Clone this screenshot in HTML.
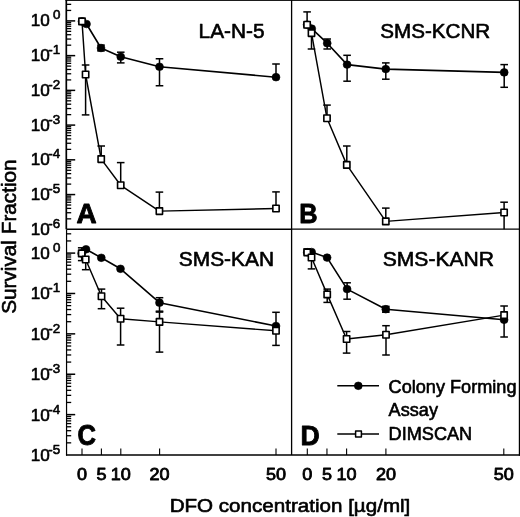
<!DOCTYPE html>
<html><head><meta charset="utf-8"><title>Survival Fraction vs DFO concentration</title>
<style>
html,body{margin:0;padding:0;background:#fff;}
svg{display:block;font-family:'Liberation Sans', Arial, Helvetica, sans-serif;fill:#000;}
</style></head>
<body>
<svg width="520" height="517" viewBox="0 0 520 517">
<rect x="0" y="0" width="520" height="517" fill="#fff"/>
<g font-family="'Liberation Sans', Arial, Helvetica, sans-serif" fill="#000" stroke="#000" stroke-width="0.6" stroke-linejoin="round">
<line x1="66.3" y1="0" x2="66.3" y2="229.3" stroke="#000" stroke-width="1.7"/>
<line x1="66.55" y1="229.3" x2="66.55" y2="455.6" stroke="#000" stroke-width="1.2"/>
<line x1="65.5" y1="0.4" x2="520" y2="0.4" stroke="#000" stroke-width="1.0"/>
<line x1="519.4" y1="0" x2="519.4" y2="455.7" stroke="#000" stroke-width="1.2"/>
<line x1="65.95" y1="455.0" x2="520" y2="455.0" stroke="#000" stroke-width="1.4"/>
<line x1="66.8" y1="229.3" x2="291.6" y2="229.3" stroke="#000" stroke-width="1.4"/>
<line x1="291.6" y1="229.10000000000002" x2="520" y2="229.10000000000002" stroke="#000" stroke-width="1.2"/>
<line x1="291.6" y1="0" x2="291.6" y2="455.0" stroke="#000" stroke-width="1.3"/>
<line x1="66.8" y1="20.90" x2="75.2" y2="20.90" stroke="#000" stroke-width="1.5"/>
<line x1="66.8" y1="10.44" x2="71.2" y2="10.44" stroke="#000" stroke-width="1.3"/>
<line x1="66.8" y1="4.33" x2="71.2" y2="4.33" stroke="#000" stroke-width="1.3"/>
<line x1="66.8" y1="55.63" x2="75.2" y2="55.63" stroke="#000" stroke-width="1.5"/>
<line x1="66.8" y1="45.18" x2="71.2" y2="45.18" stroke="#000" stroke-width="1.3"/>
<line x1="66.8" y1="39.06" x2="71.2" y2="39.06" stroke="#000" stroke-width="1.3"/>
<line x1="66.8" y1="34.72" x2="71.2" y2="34.72" stroke="#000" stroke-width="1.3"/>
<line x1="66.8" y1="31.36" x2="71.2" y2="31.36" stroke="#000" stroke-width="1.3"/>
<line x1="66.8" y1="28.61" x2="71.2" y2="28.61" stroke="#000" stroke-width="1.3"/>
<line x1="66.8" y1="26.28" x2="71.2" y2="26.28" stroke="#000" stroke-width="1.3"/>
<line x1="66.8" y1="24.27" x2="71.2" y2="24.27" stroke="#000" stroke-width="1.3"/>
<line x1="66.8" y1="22.49" x2="71.2" y2="22.49" stroke="#000" stroke-width="1.3"/>
<line x1="66.8" y1="90.37" x2="75.2" y2="90.37" stroke="#000" stroke-width="1.5"/>
<line x1="66.8" y1="79.91" x2="71.2" y2="79.91" stroke="#000" stroke-width="1.3"/>
<line x1="66.8" y1="73.79" x2="71.2" y2="73.79" stroke="#000" stroke-width="1.3"/>
<line x1="66.8" y1="69.46" x2="71.2" y2="69.46" stroke="#000" stroke-width="1.3"/>
<line x1="66.8" y1="66.09" x2="71.2" y2="66.09" stroke="#000" stroke-width="1.3"/>
<line x1="66.8" y1="63.34" x2="71.2" y2="63.34" stroke="#000" stroke-width="1.3"/>
<line x1="66.8" y1="61.01" x2="71.2" y2="61.01" stroke="#000" stroke-width="1.3"/>
<line x1="66.8" y1="59.00" x2="71.2" y2="59.00" stroke="#000" stroke-width="1.3"/>
<line x1="66.8" y1="57.22" x2="71.2" y2="57.22" stroke="#000" stroke-width="1.3"/>
<line x1="66.8" y1="125.10" x2="75.2" y2="125.10" stroke="#000" stroke-width="1.5"/>
<line x1="66.8" y1="114.64" x2="71.2" y2="114.64" stroke="#000" stroke-width="1.3"/>
<line x1="66.8" y1="108.53" x2="71.2" y2="108.53" stroke="#000" stroke-width="1.3"/>
<line x1="66.8" y1="104.19" x2="71.2" y2="104.19" stroke="#000" stroke-width="1.3"/>
<line x1="66.8" y1="100.82" x2="71.2" y2="100.82" stroke="#000" stroke-width="1.3"/>
<line x1="66.8" y1="98.07" x2="71.2" y2="98.07" stroke="#000" stroke-width="1.3"/>
<line x1="66.8" y1="95.75" x2="71.2" y2="95.75" stroke="#000" stroke-width="1.3"/>
<line x1="66.8" y1="93.73" x2="71.2" y2="93.73" stroke="#000" stroke-width="1.3"/>
<line x1="66.8" y1="91.96" x2="71.2" y2="91.96" stroke="#000" stroke-width="1.3"/>
<line x1="66.8" y1="159.83" x2="75.2" y2="159.83" stroke="#000" stroke-width="1.5"/>
<line x1="66.8" y1="149.38" x2="71.2" y2="149.38" stroke="#000" stroke-width="1.3"/>
<line x1="66.8" y1="143.26" x2="71.2" y2="143.26" stroke="#000" stroke-width="1.3"/>
<line x1="66.8" y1="138.92" x2="71.2" y2="138.92" stroke="#000" stroke-width="1.3"/>
<line x1="66.8" y1="135.56" x2="71.2" y2="135.56" stroke="#000" stroke-width="1.3"/>
<line x1="66.8" y1="132.81" x2="71.2" y2="132.81" stroke="#000" stroke-width="1.3"/>
<line x1="66.8" y1="130.48" x2="71.2" y2="130.48" stroke="#000" stroke-width="1.3"/>
<line x1="66.8" y1="128.47" x2="71.2" y2="128.47" stroke="#000" stroke-width="1.3"/>
<line x1="66.8" y1="126.69" x2="71.2" y2="126.69" stroke="#000" stroke-width="1.3"/>
<line x1="66.8" y1="194.57" x2="75.2" y2="194.57" stroke="#000" stroke-width="1.5"/>
<line x1="66.8" y1="184.11" x2="71.2" y2="184.11" stroke="#000" stroke-width="1.3"/>
<line x1="66.8" y1="177.99" x2="71.2" y2="177.99" stroke="#000" stroke-width="1.3"/>
<line x1="66.8" y1="173.66" x2="71.2" y2="173.66" stroke="#000" stroke-width="1.3"/>
<line x1="66.8" y1="170.29" x2="71.2" y2="170.29" stroke="#000" stroke-width="1.3"/>
<line x1="66.8" y1="167.54" x2="71.2" y2="167.54" stroke="#000" stroke-width="1.3"/>
<line x1="66.8" y1="165.21" x2="71.2" y2="165.21" stroke="#000" stroke-width="1.3"/>
<line x1="66.8" y1="163.20" x2="71.2" y2="163.20" stroke="#000" stroke-width="1.3"/>
<line x1="66.8" y1="161.42" x2="71.2" y2="161.42" stroke="#000" stroke-width="1.3"/>
<line x1="66.8" y1="218.84" x2="71.2" y2="218.84" stroke="#000" stroke-width="1.3"/>
<line x1="66.8" y1="212.73" x2="71.2" y2="212.73" stroke="#000" stroke-width="1.3"/>
<line x1="66.8" y1="208.39" x2="71.2" y2="208.39" stroke="#000" stroke-width="1.3"/>
<line x1="66.8" y1="205.02" x2="71.2" y2="205.02" stroke="#000" stroke-width="1.3"/>
<line x1="66.8" y1="202.27" x2="71.2" y2="202.27" stroke="#000" stroke-width="1.3"/>
<line x1="66.8" y1="199.95" x2="71.2" y2="199.95" stroke="#000" stroke-width="1.3"/>
<line x1="66.8" y1="197.93" x2="71.2" y2="197.93" stroke="#000" stroke-width="1.3"/>
<line x1="66.8" y1="196.16" x2="71.2" y2="196.16" stroke="#000" stroke-width="1.3"/>
<line x1="66.8" y1="253.10" x2="75.2" y2="253.10" stroke="#000" stroke-width="1.5"/>
<line x1="66.8" y1="240.94" x2="71.2" y2="240.94" stroke="#000" stroke-width="1.3"/>
<line x1="66.8" y1="233.83" x2="71.2" y2="233.83" stroke="#000" stroke-width="1.3"/>
<line x1="66.8" y1="293.48" x2="75.2" y2="293.48" stroke="#000" stroke-width="1.5"/>
<line x1="66.8" y1="281.32" x2="71.2" y2="281.32" stroke="#000" stroke-width="1.3"/>
<line x1="66.8" y1="274.21" x2="71.2" y2="274.21" stroke="#000" stroke-width="1.3"/>
<line x1="66.8" y1="269.17" x2="71.2" y2="269.17" stroke="#000" stroke-width="1.3"/>
<line x1="66.8" y1="265.26" x2="71.2" y2="265.26" stroke="#000" stroke-width="1.3"/>
<line x1="66.8" y1="262.06" x2="71.2" y2="262.06" stroke="#000" stroke-width="1.3"/>
<line x1="66.8" y1="259.35" x2="71.2" y2="259.35" stroke="#000" stroke-width="1.3"/>
<line x1="66.8" y1="257.01" x2="71.2" y2="257.01" stroke="#000" stroke-width="1.3"/>
<line x1="66.8" y1="254.95" x2="71.2" y2="254.95" stroke="#000" stroke-width="1.3"/>
<line x1="66.8" y1="333.86" x2="75.2" y2="333.86" stroke="#000" stroke-width="1.5"/>
<line x1="66.8" y1="321.70" x2="71.2" y2="321.70" stroke="#000" stroke-width="1.3"/>
<line x1="66.8" y1="314.59" x2="71.2" y2="314.59" stroke="#000" stroke-width="1.3"/>
<line x1="66.8" y1="309.55" x2="71.2" y2="309.55" stroke="#000" stroke-width="1.3"/>
<line x1="66.8" y1="305.64" x2="71.2" y2="305.64" stroke="#000" stroke-width="1.3"/>
<line x1="66.8" y1="302.44" x2="71.2" y2="302.44" stroke="#000" stroke-width="1.3"/>
<line x1="66.8" y1="299.73" x2="71.2" y2="299.73" stroke="#000" stroke-width="1.3"/>
<line x1="66.8" y1="297.39" x2="71.2" y2="297.39" stroke="#000" stroke-width="1.3"/>
<line x1="66.8" y1="295.33" x2="71.2" y2="295.33" stroke="#000" stroke-width="1.3"/>
<line x1="66.8" y1="374.24" x2="75.2" y2="374.24" stroke="#000" stroke-width="1.5"/>
<line x1="66.8" y1="362.08" x2="71.2" y2="362.08" stroke="#000" stroke-width="1.3"/>
<line x1="66.8" y1="354.97" x2="71.2" y2="354.97" stroke="#000" stroke-width="1.3"/>
<line x1="66.8" y1="349.93" x2="71.2" y2="349.93" stroke="#000" stroke-width="1.3"/>
<line x1="66.8" y1="346.02" x2="71.2" y2="346.02" stroke="#000" stroke-width="1.3"/>
<line x1="66.8" y1="342.82" x2="71.2" y2="342.82" stroke="#000" stroke-width="1.3"/>
<line x1="66.8" y1="340.11" x2="71.2" y2="340.11" stroke="#000" stroke-width="1.3"/>
<line x1="66.8" y1="337.77" x2="71.2" y2="337.77" stroke="#000" stroke-width="1.3"/>
<line x1="66.8" y1="335.71" x2="71.2" y2="335.71" stroke="#000" stroke-width="1.3"/>
<line x1="66.8" y1="414.62" x2="75.2" y2="414.62" stroke="#000" stroke-width="1.5"/>
<line x1="66.8" y1="402.46" x2="71.2" y2="402.46" stroke="#000" stroke-width="1.3"/>
<line x1="66.8" y1="395.35" x2="71.2" y2="395.35" stroke="#000" stroke-width="1.3"/>
<line x1="66.8" y1="390.31" x2="71.2" y2="390.31" stroke="#000" stroke-width="1.3"/>
<line x1="66.8" y1="386.40" x2="71.2" y2="386.40" stroke="#000" stroke-width="1.3"/>
<line x1="66.8" y1="383.20" x2="71.2" y2="383.20" stroke="#000" stroke-width="1.3"/>
<line x1="66.8" y1="380.49" x2="71.2" y2="380.49" stroke="#000" stroke-width="1.3"/>
<line x1="66.8" y1="378.15" x2="71.2" y2="378.15" stroke="#000" stroke-width="1.3"/>
<line x1="66.8" y1="376.09" x2="71.2" y2="376.09" stroke="#000" stroke-width="1.3"/>
<line x1="66.8" y1="442.84" x2="71.2" y2="442.84" stroke="#000" stroke-width="1.3"/>
<line x1="66.8" y1="435.73" x2="71.2" y2="435.73" stroke="#000" stroke-width="1.3"/>
<line x1="66.8" y1="430.69" x2="71.2" y2="430.69" stroke="#000" stroke-width="1.3"/>
<line x1="66.8" y1="426.78" x2="71.2" y2="426.78" stroke="#000" stroke-width="1.3"/>
<line x1="66.8" y1="423.58" x2="71.2" y2="423.58" stroke="#000" stroke-width="1.3"/>
<line x1="66.8" y1="420.87" x2="71.2" y2="420.87" stroke="#000" stroke-width="1.3"/>
<line x1="66.8" y1="418.53" x2="71.2" y2="418.53" stroke="#000" stroke-width="1.3"/>
<line x1="66.8" y1="416.47" x2="71.2" y2="416.47" stroke="#000" stroke-width="1.3"/>
<text x="49.8" y="26.3" font-size="17.1" text-anchor="end" transform="translate(0 0)">10</text>
<text x="53.0" y="19.3" font-size="13.4">0</text>
<text x="49.8" y="61.0" font-size="17.1" text-anchor="end" transform="translate(0 0)">10</text>
<text x="48.2" y="54.0" font-size="13.4" letter-spacing="0.1">-1</text>
<text x="49.8" y="95.8" font-size="17.1" text-anchor="end" transform="translate(0 0)">10</text>
<text x="48.2" y="88.8" font-size="13.4" letter-spacing="0.1">-2</text>
<text x="49.8" y="130.5" font-size="17.1" text-anchor="end" transform="translate(0 0)">10</text>
<text x="48.2" y="123.5" font-size="13.4" letter-spacing="0.1">-3</text>
<text x="49.8" y="165.2" font-size="17.1" text-anchor="end" transform="translate(0 0)">10</text>
<text x="48.2" y="158.2" font-size="13.4" letter-spacing="0.1">-4</text>
<text x="49.8" y="200.0" font-size="17.1" text-anchor="end" transform="translate(0 0)">10</text>
<text x="48.2" y="193.0" font-size="13.4" letter-spacing="0.1">-5</text>
<text x="49.8" y="234.7" font-size="17.1" text-anchor="end" transform="translate(0 0)">10</text>
<text x="48.2" y="227.7" font-size="13.4" letter-spacing="0.1">-6</text>
<text x="49.8" y="259.0" font-size="17.1" text-anchor="end" transform="translate(0 0)">10</text>
<text x="53.0" y="252.0" font-size="13.4">0</text>
<text x="49.8" y="299.4" font-size="17.1" text-anchor="end" transform="translate(0 0)">10</text>
<text x="48.2" y="292.4" font-size="13.4" letter-spacing="0.1">-1</text>
<text x="49.8" y="339.8" font-size="17.1" text-anchor="end" transform="translate(0 0)">10</text>
<text x="48.2" y="332.8" font-size="13.4" letter-spacing="0.1">-2</text>
<text x="49.8" y="380.1" font-size="17.1" text-anchor="end" transform="translate(0 0)">10</text>
<text x="48.2" y="373.1" font-size="13.4" letter-spacing="0.1">-3</text>
<text x="49.8" y="420.5" font-size="17.1" text-anchor="end" transform="translate(0 0)">10</text>
<text x="48.2" y="413.5" font-size="13.4" letter-spacing="0.1">-4</text>
<text x="49.8" y="460.9" font-size="17.1" text-anchor="end" transform="translate(0 0)">10</text>
<text x="48.2" y="453.9" font-size="13.4" letter-spacing="0.1">-5</text>
<line x1="82.00" y1="455.0" x2="82.00" y2="448.4" stroke="#000" stroke-width="1.1"/>
<text x="0" y="0" font-size="16.4" stroke-width="0.8" text-anchor="middle" transform="translate(82.00 479.6) scale(1.1 1)">0</text>
<line x1="101.40" y1="455.0" x2="101.40" y2="448.4" stroke="#000" stroke-width="1.1"/>
<text x="0" y="0" font-size="16.4" stroke-width="0.8" text-anchor="middle" transform="translate(101.40 479.6) scale(1.1 1)">5</text>
<line x1="120.80" y1="455.0" x2="120.80" y2="448.4" stroke="#000" stroke-width="1.1"/>
<text x="0" y="0" font-size="16.4" stroke-width="0.8" text-anchor="middle" transform="translate(120.80 479.6) scale(1.1 1)">10</text>
<line x1="159.60" y1="455.0" x2="159.60" y2="448.4" stroke="#000" stroke-width="1.1"/>
<text x="0" y="0" font-size="16.4" stroke-width="0.8" text-anchor="middle" transform="translate(159.60 479.6) scale(1.1 1)">20</text>
<line x1="276.00" y1="455.0" x2="276.00" y2="448.4" stroke="#000" stroke-width="1.1"/>
<text x="0" y="0" font-size="16.4" stroke-width="0.8" text-anchor="middle" transform="translate(276.00 479.6) scale(1.1 1)">50</text>
<line x1="307.30" y1="455.0" x2="307.30" y2="448.4" stroke="#000" stroke-width="1.1"/>
<text x="0" y="0" font-size="16.4" stroke-width="0.8" text-anchor="middle" transform="translate(307.30 479.6) scale(1.1 1)">0</text>
<line x1="326.95" y1="455.0" x2="326.95" y2="448.4" stroke="#000" stroke-width="1.1"/>
<text x="0" y="0" font-size="16.4" stroke-width="0.8" text-anchor="middle" transform="translate(326.95 479.6) scale(1.1 1)">5</text>
<line x1="346.60" y1="455.0" x2="346.60" y2="448.4" stroke="#000" stroke-width="1.1"/>
<text x="0" y="0" font-size="16.4" stroke-width="0.8" text-anchor="middle" transform="translate(346.60 479.6) scale(1.1 1)">10</text>
<line x1="385.90" y1="455.0" x2="385.90" y2="448.4" stroke="#000" stroke-width="1.1"/>
<text x="0" y="0" font-size="16.4" stroke-width="0.8" text-anchor="middle" transform="translate(385.90 479.6) scale(1.1 1)">20</text>
<line x1="503.80" y1="455.0" x2="503.80" y2="448.4" stroke="#000" stroke-width="1.1"/>
<text x="0" y="0" font-size="16.4" stroke-width="0.8" text-anchor="middle" transform="translate(503.80 479.6) scale(1.1 1)">50</text>
<text x="290" y="512" font-size="18.4" text-anchor="middle" transform="translate(290 0) scale(1.12 1) translate(-290 0)">DFO concentration [µg/ml]</text>
<text x="0" y="0" font-size="20.8" text-anchor="middle" transform="translate(16.3 236.6) rotate(-90) scale(0.998 1)">Survival Fraction</text>
<text x="0" y="0" font-size="20" transform="translate(198.6 38.3) scale(1.042 1)">LA-N-5</text>
<text x="0" y="0" font-size="20" transform="translate(380.2 38.3) scale(1.032 1)">SMS-KCNR</text>
<text x="0" y="0" font-size="20" transform="translate(178.8 266.2) scale(1.046 1)">SMS-KAN</text>
<text x="0" y="0" font-size="20" transform="translate(382.7 266.2) scale(1.056 1)">SMS-KANR</text>
<text x="0" y="0" font-size="25.6" font-weight="bold" stroke-width="0.8" transform="translate(76.4 222.5) scale(1.09 1.065)">A</text>
<text x="0" y="0" font-size="25.6" font-weight="bold" stroke-width="0.8" transform="translate(299.2 223.3) scale(0.99 1.09)">B</text>
<text x="0" y="0" font-size="25.6" font-weight="bold" stroke-width="0.8" transform="translate(77.5 445.3) scale(1.0 1.16)">C</text>
<text x="0" y="0" font-size="25.6" font-weight="bold" stroke-width="0.8" transform="translate(300.6 445.2) scale(1.04 1.085)">D</text>
<polyline points="82,21.4 86.5,24 101,48 120.75,56.75 159.5,66.75 276,77.2" fill="none" stroke="#000" stroke-width="1.6" stroke-linejoin="round"/>
<line x1="101" y1="48" x2="101" y2="45.1" stroke="#000" stroke-width="1.5"/>
<line x1="97.2" y1="45.1" x2="104.8" y2="45.1" stroke="#000" stroke-width="1.5"/>
<line x1="101" y1="48" x2="101" y2="50.9" stroke="#000" stroke-width="1.5"/>
<line x1="97.2" y1="50.9" x2="104.8" y2="50.9" stroke="#000" stroke-width="1.5"/>
<line x1="120.75" y1="56.75" x2="120.75" y2="52.2" stroke="#000" stroke-width="1.5"/>
<line x1="116.95" y1="52.2" x2="124.55" y2="52.2" stroke="#000" stroke-width="1.5"/>
<line x1="120.75" y1="56.75" x2="120.75" y2="62.9" stroke="#000" stroke-width="1.5"/>
<line x1="116.95" y1="62.9" x2="124.55" y2="62.9" stroke="#000" stroke-width="1.5"/>
<line x1="159.5" y1="66.75" x2="159.5" y2="58.75" stroke="#000" stroke-width="1.5"/>
<line x1="155.7" y1="58.75" x2="163.3" y2="58.75" stroke="#000" stroke-width="1.5"/>
<line x1="159.5" y1="66.75" x2="159.5" y2="85.75" stroke="#000" stroke-width="1.5"/>
<line x1="155.7" y1="85.75" x2="163.3" y2="85.75" stroke="#000" stroke-width="1.5"/>
<line x1="276" y1="77.2" x2="276" y2="64" stroke="#000" stroke-width="1.5"/>
<line x1="272.2" y1="64" x2="279.8" y2="64" stroke="#000" stroke-width="1.5"/>
<ellipse cx="82" cy="21.4" rx="3.95" ry="3.85" fill="#000"/>
<ellipse cx="86.5" cy="24" rx="3.95" ry="3.85" fill="#000"/>
<ellipse cx="101" cy="48" rx="3.95" ry="3.85" fill="#000"/>
<ellipse cx="120.75" cy="56.75" rx="3.95" ry="3.85" fill="#000"/>
<ellipse cx="159.5" cy="66.75" rx="3.95" ry="3.85" fill="#000"/>
<ellipse cx="276" cy="77.2" rx="3.95" ry="3.85" fill="#000"/>
<polyline points="82,21.4 85.6,74.5 101.2,159.1 120.7,185.3 159.4,211.1 276,208.5" fill="none" stroke="#000" stroke-width="1.45" stroke-linejoin="round"/>
<line x1="85.6" y1="74.5" x2="85.6" y2="65" stroke="#000" stroke-width="1.5"/>
<line x1="81.8" y1="65" x2="89.39999999999999" y2="65" stroke="#000" stroke-width="1.5"/>
<line x1="85.6" y1="74.5" x2="85.6" y2="114.9" stroke="#000" stroke-width="1.5"/>
<line x1="81.8" y1="114.9" x2="89.39999999999999" y2="114.9" stroke="#000" stroke-width="1.5"/>
<line x1="101.2" y1="159.1" x2="101.2" y2="146" stroke="#000" stroke-width="1.5"/>
<line x1="97.4" y1="146" x2="105.0" y2="146" stroke="#000" stroke-width="1.5"/>
<line x1="120.7" y1="185.3" x2="120.7" y2="162.6" stroke="#000" stroke-width="1.5"/>
<line x1="116.9" y1="162.6" x2="124.5" y2="162.6" stroke="#000" stroke-width="1.5"/>
<line x1="159.4" y1="211.1" x2="159.4" y2="192.1" stroke="#000" stroke-width="1.5"/>
<line x1="155.6" y1="192.1" x2="163.20000000000002" y2="192.1" stroke="#000" stroke-width="1.5"/>
<line x1="276" y1="208.5" x2="276" y2="191.9" stroke="#000" stroke-width="1.5"/>
<line x1="272.2" y1="191.9" x2="279.8" y2="191.9" stroke="#000" stroke-width="1.5"/>
<rect x="78.85" y="18.15" width="6.3" height="6.5" fill="#fff" stroke="#000" stroke-width="1.6"/>
<rect x="82.45" y="71.25" width="6.3" height="6.5" fill="#fff" stroke="#000" stroke-width="1.6"/>
<rect x="98.05" y="155.85" width="6.3" height="6.5" fill="#fff" stroke="#000" stroke-width="1.6"/>
<rect x="117.55" y="182.05" width="6.3" height="6.5" fill="#fff" stroke="#000" stroke-width="1.6"/>
<rect x="156.25" y="207.85" width="6.3" height="6.5" fill="#fff" stroke="#000" stroke-width="1.6"/>
<rect x="272.85" y="205.25" width="6.3" height="6.5" fill="#fff" stroke="#000" stroke-width="1.6"/>
<polyline points="307.1,24.7 311.7,28.6 327.2,43.2 347.1,64.6 385.8,69.1 504.2,72.4" fill="none" stroke="#000" stroke-width="1.6" stroke-linejoin="round"/>
<line x1="327.2" y1="43.2" x2="327.2" y2="39" stroke="#000" stroke-width="1.5"/>
<line x1="323.4" y1="39" x2="331.0" y2="39" stroke="#000" stroke-width="1.5"/>
<line x1="327.2" y1="43.2" x2="327.2" y2="49" stroke="#000" stroke-width="1.5"/>
<line x1="323.4" y1="49" x2="331.0" y2="49" stroke="#000" stroke-width="1.5"/>
<line x1="347.1" y1="64.6" x2="347.1" y2="55.3" stroke="#000" stroke-width="1.5"/>
<line x1="343.3" y1="55.3" x2="350.90000000000003" y2="55.3" stroke="#000" stroke-width="1.5"/>
<line x1="347.1" y1="64.6" x2="347.1" y2="81.2" stroke="#000" stroke-width="1.5"/>
<line x1="343.3" y1="81.2" x2="350.90000000000003" y2="81.2" stroke="#000" stroke-width="1.5"/>
<line x1="385.8" y1="69.1" x2="385.8" y2="62.9" stroke="#000" stroke-width="1.5"/>
<line x1="382.0" y1="62.9" x2="389.6" y2="62.9" stroke="#000" stroke-width="1.5"/>
<line x1="385.8" y1="69.1" x2="385.8" y2="79.2" stroke="#000" stroke-width="1.5"/>
<line x1="382.0" y1="79.2" x2="389.6" y2="79.2" stroke="#000" stroke-width="1.5"/>
<line x1="504.2" y1="72.4" x2="504.2" y2="64.6" stroke="#000" stroke-width="1.5"/>
<line x1="500.4" y1="64.6" x2="508.0" y2="64.6" stroke="#000" stroke-width="1.5"/>
<line x1="504.2" y1="72.4" x2="504.2" y2="87.3" stroke="#000" stroke-width="1.5"/>
<line x1="500.4" y1="87.3" x2="508.0" y2="87.3" stroke="#000" stroke-width="1.5"/>
<ellipse cx="307.1" cy="24.7" rx="3.95" ry="3.85" fill="#000"/>
<ellipse cx="311.7" cy="28.6" rx="3.95" ry="3.85" fill="#000"/>
<ellipse cx="327.2" cy="43.2" rx="3.95" ry="3.85" fill="#000"/>
<ellipse cx="347.1" cy="64.6" rx="3.95" ry="3.85" fill="#000"/>
<ellipse cx="385.8" cy="69.1" rx="3.95" ry="3.85" fill="#000"/>
<ellipse cx="504.2" cy="72.4" rx="3.95" ry="3.85" fill="#000"/>
<polyline points="307.1,24.7 311.5,33.1 327,118.3 346.8,164.9 385.8,221.4 504.1,212.5" fill="none" stroke="#000" stroke-width="1.45" stroke-linejoin="round"/>
<line x1="307.1" y1="24.7" x2="307.1" y2="11.9" stroke="#000" stroke-width="1.5"/>
<line x1="303.3" y1="11.9" x2="310.90000000000003" y2="11.9" stroke="#000" stroke-width="1.5"/>
<line x1="311.5" y1="33.1" x2="311.5" y2="49" stroke="#000" stroke-width="1.5"/>
<line x1="307.7" y1="49" x2="315.3" y2="49" stroke="#000" stroke-width="1.5"/>
<line x1="327" y1="118.3" x2="327" y2="105.1" stroke="#000" stroke-width="1.5"/>
<line x1="323.2" y1="105.1" x2="330.8" y2="105.1" stroke="#000" stroke-width="1.5"/>
<line x1="346.8" y1="164.9" x2="346.8" y2="146" stroke="#000" stroke-width="1.5"/>
<line x1="343.0" y1="146" x2="350.6" y2="146" stroke="#000" stroke-width="1.5"/>
<line x1="385.8" y1="221.4" x2="385.8" y2="208.1" stroke="#000" stroke-width="1.5"/>
<line x1="382.0" y1="208.1" x2="389.6" y2="208.1" stroke="#000" stroke-width="1.5"/>
<line x1="504.1" y1="212.5" x2="504.1" y2="202.2" stroke="#000" stroke-width="1.5"/>
<line x1="500.3" y1="202.2" x2="507.90000000000003" y2="202.2" stroke="#000" stroke-width="1.5"/>
<line x1="504.1" y1="212.5" x2="504.1" y2="229.3" stroke="#000" stroke-width="1.5"/>
<rect x="303.95" y="21.45" width="6.3" height="6.5" fill="#fff" stroke="#000" stroke-width="1.6"/>
<rect x="308.35" y="29.85" width="6.3" height="6.5" fill="#fff" stroke="#000" stroke-width="1.6"/>
<rect x="323.85" y="115.05" width="6.3" height="6.5" fill="#fff" stroke="#000" stroke-width="1.6"/>
<rect x="343.65" y="161.65" width="6.3" height="6.5" fill="#fff" stroke="#000" stroke-width="1.6"/>
<rect x="382.65" y="218.15" width="6.3" height="6.5" fill="#fff" stroke="#000" stroke-width="1.6"/>
<rect x="500.95" y="209.25" width="6.3" height="6.5" fill="#fff" stroke="#000" stroke-width="1.6"/>
<polyline points="81.7,253.4 86,249.3 101.3,257.8 120.5,268.8 159.5,302.7 276,326" fill="none" stroke="#000" stroke-width="1.6" stroke-linejoin="round"/>
<line x1="159.5" y1="302.7" x2="159.5" y2="297.7" stroke="#000" stroke-width="1.5"/>
<line x1="155.7" y1="297.7" x2="163.3" y2="297.7" stroke="#000" stroke-width="1.5"/>
<line x1="159.5" y1="302.7" x2="159.5" y2="311.2" stroke="#000" stroke-width="1.5"/>
<line x1="155.7" y1="311.2" x2="163.3" y2="311.2" stroke="#000" stroke-width="1.5"/>
<line x1="276" y1="326" x2="276" y2="312.3" stroke="#000" stroke-width="1.5"/>
<line x1="272.2" y1="312.3" x2="279.8" y2="312.3" stroke="#000" stroke-width="1.5"/>
<ellipse cx="81.7" cy="253.4" rx="3.95" ry="3.85" fill="#000"/>
<ellipse cx="86" cy="249.3" rx="3.95" ry="3.85" fill="#000"/>
<ellipse cx="101.3" cy="257.8" rx="3.95" ry="3.85" fill="#000"/>
<ellipse cx="120.5" cy="268.8" rx="3.95" ry="3.85" fill="#000"/>
<ellipse cx="159.5" cy="302.7" rx="3.95" ry="3.85" fill="#000"/>
<ellipse cx="276" cy="326" rx="3.95" ry="3.85" fill="#000"/>
<polyline points="81.7,253.4 85.7,259.5 101.5,296.2 120.6,318.8 159.5,321.9 276,330.8" fill="none" stroke="#000" stroke-width="1.45" stroke-linejoin="round"/>
<line x1="81.7" y1="253.4" x2="81.7" y2="247.8" stroke="#000" stroke-width="1.5"/>
<line x1="77.9" y1="247.8" x2="85.5" y2="247.8" stroke="#000" stroke-width="1.5"/>
<line x1="81.7" y1="253.4" x2="81.7" y2="260.6" stroke="#000" stroke-width="1.5"/>
<line x1="77.9" y1="260.6" x2="85.5" y2="260.6" stroke="#000" stroke-width="1.5"/>
<line x1="85.7" y1="259.5" x2="85.7" y2="269.7" stroke="#000" stroke-width="1.5"/>
<line x1="81.9" y1="269.7" x2="89.5" y2="269.7" stroke="#000" stroke-width="1.5"/>
<line x1="101.5" y1="296.2" x2="101.5" y2="289.1" stroke="#000" stroke-width="1.5"/>
<line x1="97.7" y1="289.1" x2="105.3" y2="289.1" stroke="#000" stroke-width="1.5"/>
<line x1="101.5" y1="296.2" x2="101.5" y2="308.7" stroke="#000" stroke-width="1.5"/>
<line x1="97.7" y1="308.7" x2="105.3" y2="308.7" stroke="#000" stroke-width="1.5"/>
<line x1="120.6" y1="318.8" x2="120.6" y2="308.2" stroke="#000" stroke-width="1.5"/>
<line x1="116.8" y1="308.2" x2="124.39999999999999" y2="308.2" stroke="#000" stroke-width="1.5"/>
<line x1="120.6" y1="318.8" x2="120.6" y2="345.0" stroke="#000" stroke-width="1.5"/>
<line x1="116.8" y1="345.0" x2="124.39999999999999" y2="345.0" stroke="#000" stroke-width="1.5"/>
<line x1="159.5" y1="321.9" x2="159.5" y2="312.1" stroke="#000" stroke-width="1.5"/>
<line x1="155.7" y1="312.1" x2="163.3" y2="312.1" stroke="#000" stroke-width="1.5"/>
<line x1="159.5" y1="321.9" x2="159.5" y2="352.1" stroke="#000" stroke-width="1.5"/>
<line x1="155.7" y1="352.1" x2="163.3" y2="352.1" stroke="#000" stroke-width="1.5"/>
<line x1="276" y1="330.8" x2="276" y2="345.4" stroke="#000" stroke-width="1.5"/>
<line x1="272.2" y1="345.4" x2="279.8" y2="345.4" stroke="#000" stroke-width="1.5"/>
<rect x="78.55" y="250.15" width="6.3" height="6.5" fill="#fff" stroke="#000" stroke-width="1.6"/>
<rect x="82.55" y="256.25" width="6.3" height="6.5" fill="#fff" stroke="#000" stroke-width="1.6"/>
<rect x="98.35" y="292.95" width="6.3" height="6.5" fill="#fff" stroke="#000" stroke-width="1.6"/>
<rect x="117.45" y="315.55" width="6.3" height="6.5" fill="#fff" stroke="#000" stroke-width="1.6"/>
<rect x="156.35" y="318.65" width="6.3" height="6.5" fill="#fff" stroke="#000" stroke-width="1.6"/>
<rect x="272.85" y="327.55" width="6.3" height="6.5" fill="#fff" stroke="#000" stroke-width="1.6"/>
<polyline points="307.2,252.2 311.6,252.0 327.1,257.6 347.1,289.1 385.8,309.2 504.1,319.8" fill="none" stroke="#000" stroke-width="1.6" stroke-linejoin="round"/>
<line x1="347.1" y1="289.1" x2="347.1" y2="282.8" stroke="#000" stroke-width="1.5"/>
<line x1="343.3" y1="282.8" x2="350.90000000000003" y2="282.8" stroke="#000" stroke-width="1.5"/>
<line x1="347.1" y1="289.1" x2="347.1" y2="299.2" stroke="#000" stroke-width="1.5"/>
<line x1="343.3" y1="299.2" x2="350.90000000000003" y2="299.2" stroke="#000" stroke-width="1.5"/>
<line x1="385.8" y1="309.2" x2="385.8" y2="306.4" stroke="#000" stroke-width="1.5"/>
<line x1="382.0" y1="306.4" x2="389.6" y2="306.4" stroke="#000" stroke-width="1.5"/>
<line x1="385.8" y1="309.2" x2="385.8" y2="312.2" stroke="#000" stroke-width="1.5"/>
<line x1="382.0" y1="312.2" x2="389.6" y2="312.2" stroke="#000" stroke-width="1.5"/>
<line x1="504.1" y1="319.8" x2="504.1" y2="337" stroke="#000" stroke-width="1.5"/>
<line x1="500.3" y1="337" x2="507.90000000000003" y2="337" stroke="#000" stroke-width="1.5"/>
<ellipse cx="307.2" cy="252.2" rx="3.95" ry="3.85" fill="#000"/>
<ellipse cx="311.6" cy="252.0" rx="3.95" ry="3.85" fill="#000"/>
<ellipse cx="327.1" cy="257.6" rx="3.95" ry="3.85" fill="#000"/>
<ellipse cx="347.1" cy="289.1" rx="3.95" ry="3.85" fill="#000"/>
<ellipse cx="385.8" cy="309.2" rx="3.95" ry="3.85" fill="#000"/>
<ellipse cx="504.1" cy="319.8" rx="3.95" ry="3.85" fill="#000"/>
<polyline points="307.2,252.4 311.5,257.5 327.2,294.4 346.6,339 386,334.7 504.1,315.1" fill="none" stroke="#000" stroke-width="1.45" stroke-linejoin="round"/>
<line x1="307.2" y1="252.4" x2="307.2" y2="249" stroke="#000" stroke-width="1.5"/>
<line x1="303.4" y1="249" x2="311.0" y2="249" stroke="#000" stroke-width="1.5"/>
<line x1="311.5" y1="257.5" x2="311.5" y2="268.9" stroke="#000" stroke-width="1.5"/>
<line x1="307.7" y1="268.9" x2="315.3" y2="268.9" stroke="#000" stroke-width="1.5"/>
<line x1="327.2" y1="294.4" x2="327.2" y2="289.1" stroke="#000" stroke-width="1.5"/>
<line x1="323.4" y1="289.1" x2="331.0" y2="289.1" stroke="#000" stroke-width="1.5"/>
<line x1="327.2" y1="294.4" x2="327.2" y2="302.4" stroke="#000" stroke-width="1.5"/>
<line x1="323.4" y1="302.4" x2="331.0" y2="302.4" stroke="#000" stroke-width="1.5"/>
<line x1="346.6" y1="339" x2="346.6" y2="331.5" stroke="#000" stroke-width="1.5"/>
<line x1="342.8" y1="331.5" x2="350.40000000000003" y2="331.5" stroke="#000" stroke-width="1.5"/>
<line x1="346.6" y1="339" x2="346.6" y2="353.1" stroke="#000" stroke-width="1.5"/>
<line x1="342.8" y1="353.1" x2="350.40000000000003" y2="353.1" stroke="#000" stroke-width="1.5"/>
<line x1="386" y1="334.7" x2="386" y2="325.7" stroke="#000" stroke-width="1.5"/>
<line x1="382.2" y1="325.7" x2="389.8" y2="325.7" stroke="#000" stroke-width="1.5"/>
<line x1="386" y1="334.7" x2="386" y2="355" stroke="#000" stroke-width="1.5"/>
<line x1="382.2" y1="355" x2="389.8" y2="355" stroke="#000" stroke-width="1.5"/>
<line x1="504.1" y1="315.1" x2="504.1" y2="306" stroke="#000" stroke-width="1.5"/>
<line x1="500.3" y1="306" x2="507.90000000000003" y2="306" stroke="#000" stroke-width="1.5"/>
<rect x="304.05" y="249.15" width="6.3" height="6.5" fill="#fff" stroke="#000" stroke-width="1.6"/>
<rect x="308.35" y="254.25" width="6.3" height="6.5" fill="#fff" stroke="#000" stroke-width="1.6"/>
<rect x="324.05" y="291.15" width="6.3" height="6.5" fill="#fff" stroke="#000" stroke-width="1.6"/>
<rect x="343.45" y="335.75" width="6.3" height="6.5" fill="#fff" stroke="#000" stroke-width="1.6"/>
<rect x="382.85" y="331.45" width="6.3" height="6.5" fill="#fff" stroke="#000" stroke-width="1.6"/>
<rect x="500.95" y="311.85" width="6.3" height="6.5" fill="#fff" stroke="#000" stroke-width="1.6"/>
<line x1="337.3" y1="385.8" x2="379" y2="385.8" stroke="#000" stroke-width="1.5"/>
<ellipse cx="358.3" cy="385.8" rx="3.95" ry="3.85" fill="#000"/>
<line x1="337.3" y1="434.0" x2="379" y2="434.0" stroke="#000" stroke-width="1.5"/>
<rect x="355.6" y="430.9" width="5.8" height="6.2" fill="#fff" stroke="#000" stroke-width="1.5"/>
<text x="0" y="0" font-size="17.6" transform="translate(388.6 392.8) scale(1.03 1)">Colony Forming</text>
<text x="0" y="0" font-size="17.6" transform="translate(388.6 416.3) scale(1.03 1)">Assay</text>
<text x="0" y="0" font-size="17.6" transform="translate(388.6 440.0) scale(1.03 1)">DIMSCAN</text>
</g>
</svg>
</body></html>
